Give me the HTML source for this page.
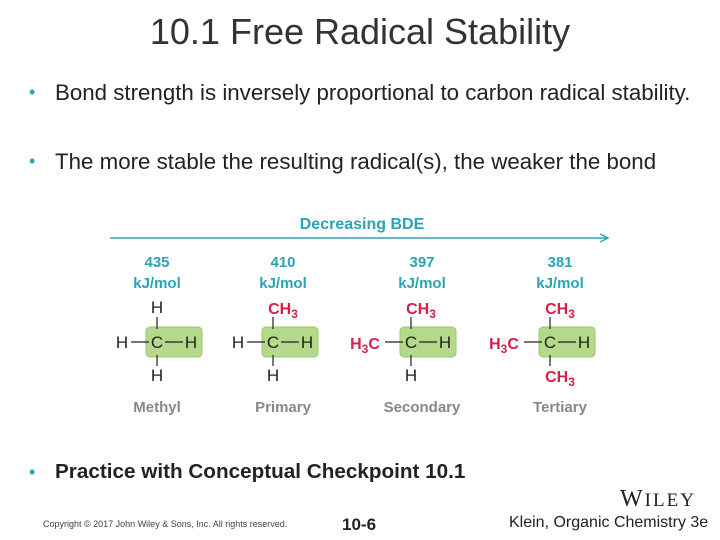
<!DOCTYPE html>
<html><head><meta charset="utf-8"><style>
body{margin:0;width:720px;height:540px;background:#fff;overflow:hidden;position:relative;font-family:"Liberation Sans",sans-serif;}
.t{position:absolute;white-space:nowrap;}
.b{position:absolute;color:#2aa3b5;font-size:18px;left:29px;}
</style></head><body>
<div class="t" style="left:0;width:720px;text-align:center;top:11px;font-size:36px;color:#333;">10.1 Free Radical Stability</div>
<div class="b" style="top:82px">•</div>
<div class="t" style="left:55px;top:80px;font-size:22.3px;color:#222;">Bond strength is inversely proportional to carbon radical stability.</div>
<div class="b" style="top:151px">•</div>
<div class="t" style="left:55px;top:149px;font-size:22.3px;color:#222;">The more stable the resulting radical(s), the weaker the bond</div>
<svg id="diag" width="720" height="540" style="position:absolute;left:0;top:0" font-family="Liberation Sans, sans-serif"></svg>
<div class="b" style="top:462px">•</div>
<div class="t" style="left:55px;top:460px;font-size:20.7px;font-weight:bold;color:#222;">Practice with Conceptual Checkpoint 10.1</div>
<div class="t" style="left:620px;top:486px;font-family:'Liberation Serif',serif;font-size:24px;letter-spacing:2px;color:#222;">W<span style="font-size:19px">ILEY</span></div>
<div class="t" style="left:43px;top:519px;font-size:9px;color:#444;">Copyright © 2017 John Wiley &amp; Sons, Inc. All rights reserved.</div>
<div class="t" style="left:342px;top:515px;font-size:17px;font-weight:bold;color:#222;">10-6</div>
<div class="t" style="left:509px;top:514px;font-size:16px;color:#222;">Klein, Organic Chemistry 3e</div>
<script>
const categories=["Methyl","Primary","Secondary","Tertiary"];
const bdeValues=[435,410,397,381];
const svg=document.getElementById('diag');
const NS='http://www.w3.org/2000/svg';
function el(tag,attrs,txt){const e=document.createElementNS(NS,tag);for(const k in attrs)e.setAttribute(k,attrs[k]);if(txt!==undefined)e.textContent=txt;svg.appendChild(e);return e;}
const teal='#2aa3b5',red='#d4204a',gray='#888';
let a=el('line',{x1:110,y1:238,x2:606,y2:238,stroke:teal,'stroke-width':1.5});

let ah=el('path',{d:'M600,234 L608,238 L600,242',fill:'none',stroke:teal,'stroke-width':1.5});

let at=el('text',{x:362,y:229,'text-anchor':'middle','font-size':16,'font-weight':'bold',fill:teal},'Decreasing BDE');

const cx=[157,283,422,560];
const cC=[157,273,411,550];
function t(x,y,s,c,name,extra){const e=el('text',Object.assign({x:x,y:y,'text-anchor':'middle','font-size':17,fill:c},extra||{}),s);return e;}
function sub(x,y,pre,post,c,name){const e=el('text',{x:x,y:y,'text-anchor':'middle','font-size':16,'font-weight':'bold',fill:c});e.innerHTML=pre+'<tspan font-size="12" dy="4">3</tspan><tspan dy="-4">'+post+'</tspan>';return e;}
categories.forEach((cat,i)=>{
  const x=cx[i],c=cC[i];
  t(x,267,String(bdeValues[i]),teal,'bde-value-'+cat.toLowerCase(),{'font-weight':'bold','font-size':15});
  t(x,288,'kJ/mol',teal,'bde-unit-'+cat.toLowerCase(),{'font-weight':'bold','font-size':15});
  const b=el('rect',{x:c-11,y:327,width:56,height:30,rx:4,fill:'#b5d98a',stroke:'#9cc76a'});
  
  t(c,348,'C','#222','carbon-'+cat.toLowerCase());
  t(c+34,348,'H','#222','h-right-'+cat.toLowerCase());
  el('line',{x1:c+8,y1:342,x2:c+26,y2:342,stroke:'#222','stroke-width':1.2});
  el('line',{x1:c-26,y1:342,x2:c-8,y2:342,stroke:'#222','stroke-width':1.2});
  el('line',{x1:c,y1:317,x2:c,y2:329,stroke:'#222','stroke-width':1.2});
  el('line',{x1:c,y1:355,x2:c,y2:366,stroke:'#222','stroke-width':1.2});
  if(i<2)t(c-35,348,'H','#222','h-left-'+cat.toLowerCase());
  else sub(c-46,349,'H','C',red,'methyl-left-'+cat.toLowerCase());
  if(i===0)t(c,313,'H','#222','h-top-'+cat.toLowerCase());
  else sub(c+10,314,'CH','',red,'methyl-top-'+cat.toLowerCase());
  if(i<3)t(c,381,'H','#222','h-bottom-'+cat.toLowerCase());
  else sub(c+10,382,'CH','',red,'methyl-bottom-'+cat.toLowerCase());
  t(x,412,cat,gray,'label-'+cat.toLowerCase(),{'font-weight':'bold','font-size':15});
});
</script>
</body></html>
